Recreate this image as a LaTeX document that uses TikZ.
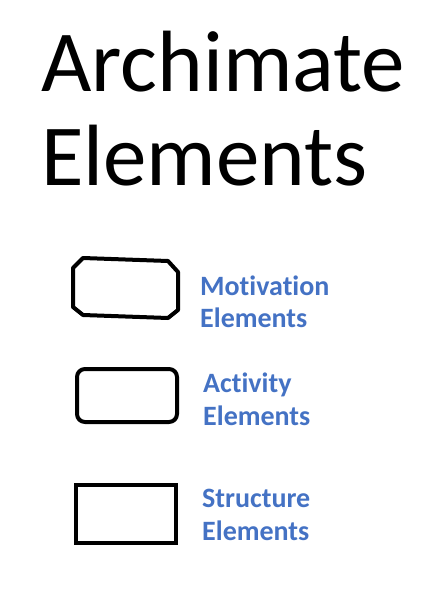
\documentclass[tikz,border=0pt]{standalone}
\usepackage{fontspec}
\setmainfont{Carlito}[Ligatures=NoCommon]
\definecolor{labelblue}{HTML}{4472C4}
\tikzset{
  title/.style={anchor=base west, inner sep=0pt, font=\fontsize{87}{87}\selectfont},
  legend/.style={anchor=base west, inner sep=0pt, text=labelblue, font=\fontsize{28}{28}\selectfont\bfseries},
  outline/.style={line width=4pt, line join=round}
}
\begin{document}
\begin{tikzpicture}[x=1pt,y=-1pt]
          \useasboundingbox (0,0) rectangle (440,599);
          \node[title] (archimate) at (41,92) {Archimate};
          \node[title] (elements) at (41,185) {Elements};
          \draw[outline] (83,258) -- (168,261) -- (178,272) -- (178,310) -- (168,318) -- (83,315) -- (73,307) -- (73,268) -- cycle;
          \draw[outline, rounded corners=8pt] (77,369) rectangle (177,422);
          \draw[outline, line join=miter] (76,485) rectangle (176,543);
          \node[legend] (motivation) at (200,295) {Motivation};
          \node[legend] (motivation2) at (200,327) {Elements};
          \node[legend] (activity) at (203,392) {Activity};
          \node[legend] (activity2) at (203,425) {Elements};
          \node[legend] (structure) at (202,507) {Structure};
          \node[legend] (structure2) at (202,540) {Elements};
    \end{tikzpicture}
\end{document}
